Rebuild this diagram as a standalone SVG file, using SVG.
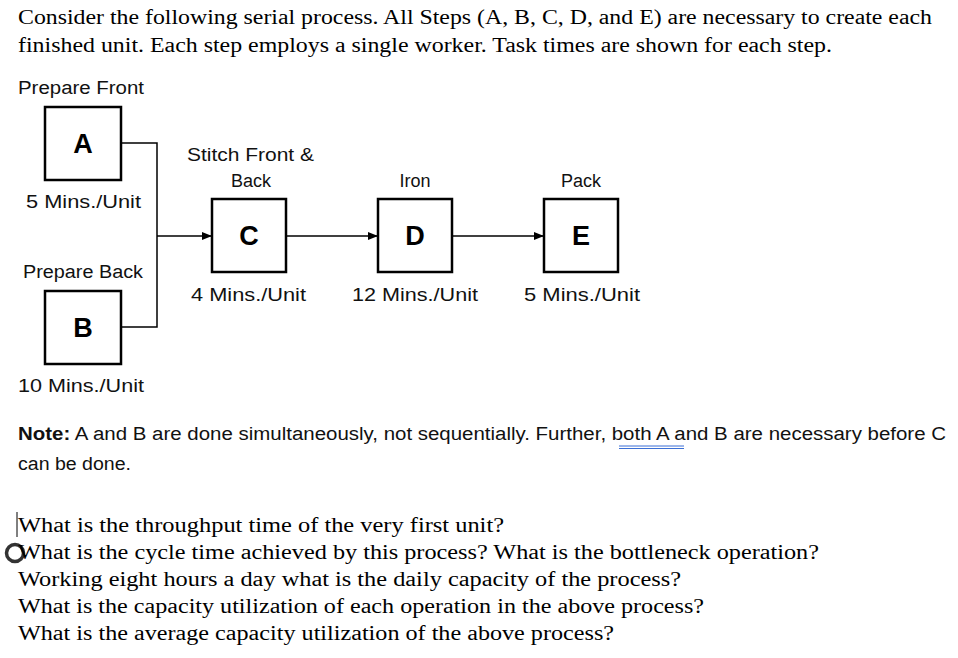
<svg xmlns="http://www.w3.org/2000/svg" width="958" height="658" viewBox="0 0 958 658" xml:space="preserve">
<style>
.s{font-family:"Liberation Serif",serif;font-size:20px;fill:#000}
.c{font-family:"Liberation Sans",sans-serif;font-size:18px;fill:#111}
.L{font-family:"Liberation Sans",sans-serif;font-size:27px;font-weight:bold;fill:#000;text-anchor:middle}
.m{text-anchor:middle}
.box{fill:#fff;stroke:#000;stroke-width:2.5}
.ln{fill:none;stroke:#000;stroke-width:1.5}
</style>
<defs><marker id="ar" markerWidth="10" markerHeight="10" refX="9" refY="5" orient="auto" markerUnits="userSpaceOnUse"><path d="M0,1 L10,5 L0,9 z" fill="#000"/></marker></defs>
<rect width="958" height="658" fill="#fff"/>
<text class="s" x="18" y="24" textLength="914" lengthAdjust="spacingAndGlyphs">Consider the following serial process. All Steps (A, B, C, D, and E) are necessary to create each</text>
<text class="s" x="18" y="52" textLength="814" lengthAdjust="spacingAndGlyphs">finished unit. Each step employs a single worker. Task times are shown for each step.</text>
<g id="connectors">
<polyline class="ln" points="121,143 157,143 157,327 121,327"/>
<line class="ln" x1="157" y1="236" x2="211" y2="236" marker-end="url(#ar)"/>
<line class="ln" x1="286" y1="236" x2="377" y2="236" marker-end="url(#ar)"/>
<line class="ln" x1="452" y1="236" x2="543" y2="236" marker-end="url(#ar)"/>
</g>
<g id="A"><text class="c" x="18" y="94" textLength="126" lengthAdjust="spacingAndGlyphs">Prepare Front</text><rect class="box" x="45" y="107" width="76" height="73"/><text class="L" x="83" y="153">A</text><text class="c" x="26" y="208" textLength="115" lengthAdjust="spacingAndGlyphs">5 Mins./Unit</text></g>
<g id="B"><text class="c" x="23" y="278" textLength="120" lengthAdjust="spacingAndGlyphs">Prepare Back</text><rect class="box" x="45" y="291" width="76" height="73"/><text class="L" x="83" y="337">B</text><text class="c" x="18" y="392" textLength="126" lengthAdjust="spacingAndGlyphs">10 Mins./Unit</text></g>
<g id="C"><text class="c" x="187" y="161" textLength="127" lengthAdjust="spacingAndGlyphs">Stitch Front &amp;</text><text class="c m" x="251" y="187">Back</text><rect class="box" x="212" y="199" width="74" height="73"/><text class="L" x="249" y="245">C</text><text class="c" x="191" y="301" textLength="115" lengthAdjust="spacingAndGlyphs">4 Mins./Unit</text></g>
<g id="D"><text class="c m" x="415" y="187">Iron</text><rect class="box" x="378" y="199" width="74" height="73"/><text class="L" x="415" y="245">D</text><text class="c" x="352" y="301" textLength="126" lengthAdjust="spacingAndGlyphs">12 Mins./Unit</text></g>
<g id="E"><text class="c m" x="581" y="187">Pack</text><rect class="box" x="544" y="199" width="74" height="73"/><text class="L" x="581" y="245">E</text><text class="c" x="524" y="301" textLength="116" lengthAdjust="spacingAndGlyphs">5 Mins./Unit</text></g>
<text class="c" x="18" y="440" textLength="928" lengthAdjust="spacingAndGlyphs"><tspan font-weight="bold">Note:</tspan>  A and B are done simultaneously, not sequentially.  Further, both  A and B are necessary before C</text>
<line x1="619" y1="446" x2="684" y2="446" stroke="#3b6fd6" stroke-width="1"/>
<line x1="619" y1="448.5" x2="684" y2="448.5" stroke="#3b6fd6" stroke-width="1"/>
<text class="c" x="18" y="470" textLength="113" lengthAdjust="spacingAndGlyphs">can be done.</text>
<line x1="17" y1="512" x2="17" y2="537" stroke="#000" stroke-width="1"/>
<circle cx="15" cy="553" r="8.5" fill="none" stroke="#333" stroke-width="3.5"/>
<text class="s" x="18" y="532" textLength="486" lengthAdjust="spacingAndGlyphs">What is the throughput time of the very first unit?</text>
<text class="s" x="18" y="559" textLength="801" lengthAdjust="spacingAndGlyphs">What is the cycle time achieved by this process?  What is the bottleneck operation?</text>
<text class="s" x="18" y="586" textLength="663" lengthAdjust="spacingAndGlyphs">Working eight hours a day what is the daily capacity of the process?</text>
<text class="s" x="18" y="613" textLength="686" lengthAdjust="spacingAndGlyphs">What is the capacity utilization of each operation in the above process?</text>
<text class="s" x="18" y="640" textLength="596" lengthAdjust="spacingAndGlyphs">What is the average capacity utilization of the above process?</text>
</svg>
